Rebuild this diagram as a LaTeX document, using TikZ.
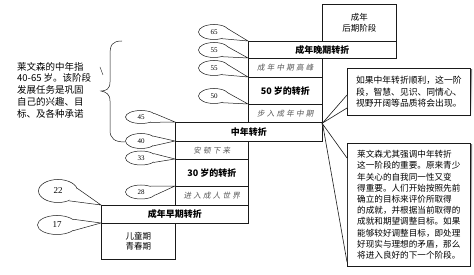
\documentclass[tikz,border=0pt]{standalone}
\usepackage{fontspec}
\usepackage{xcolor}
\usetikzlibrary{shapes.geometric,positioning}
\newfontfamily\cjk{Noto Sans CJK SC}
\newfontfamily\cjksp[LetterSpace=28,FakeSlant=0.18]{Noto Sans CJK SC}
\newfontfamily\numfont{Liberation Serif}
\definecolor{ink}{HTML}{1A1A1A}
\definecolor{muted}{HTML}{555555}
\definecolor{shade}{HTML}{A0A0A0}
\tikzset{
  rowbox/.style={draw=ink,line width=0.6pt,anchor=north west,inner sep=0pt},
  bigrow/.style={rowbox,font=\cjk\bfseries\fontsize{9}{11}\selectfont},
  smallrow/.style={rowbox,font=\cjksp\fontsize{7.6}{9}\selectfont,text=muted},
  agebubble/.style={draw=ink,ellipse,line width=0.5pt,inner sep=0pt,fill=white},
  notebox/.style={draw=ink,line width=0.6pt,fill=white,anchor=north west,
                  inner sep=0pt,align=left},
}

\begin{document}
\begin{tikzpicture}[x=1pt,y=-1pt]
  \useasboundingbox (0,0) rectangle (474,275);
  \fill[white] (0,0) rectangle (474,275);
  % staircase of stages
  \node[rowbox,minimum width=74pt,minimum height=37pt,align=center,
        font=\cjk\fontsize{8.5}{11}\selectfont] (late) at (322,4) {成年\\后期阶段};
  \node[bigrow,minimum width=148pt,minimum height=17pt] (r65) at (248,41) {成年晚期转折};
  \node[smallrow,minimum width=74pt,minimum height=19pt] (r60) at (248,58) {成年中期高峰};
  \node[bigrow,minimum width=74pt,minimum height=27pt] (r55) at (248,77) {50 岁的转折};
  \node[smallrow,minimum width=74pt,minimum height=18pt] (r50) at (248,104) {步入成年中期};
  \node[bigrow,minimum width=147pt,minimum height=19pt] (r45) at (175,122) {中年转折};
  \node[smallrow,minimum width=73pt,minimum height=18pt] (r40) at (175,141) {安顿下来};
  \node[bigrow,minimum width=73pt,minimum height=27pt] (r33) at (175,159) {30 岁的转折};
  \node[smallrow,minimum width=73pt,minimum height=19pt] (r28) at (175,186) {进入成人世界};
  \node[bigrow,minimum width=147pt,minimum height=18pt] (r22) at (101,205) {成年早期转折};
  \node[rowbox,minimum width=74pt,minimum height=36pt,align=left,
        font=\cjk\fontsize{8.5}{10.5}\selectfont] (r17) at (101,223) {儿童期\\青春期};
  % age bubbles
  \foreach \n/\cx/\cy/\w/\h/\s/\lab/\tip/\a/\b in {
      a65/214/32/31/15/7/65/r65/10/-40, a60/214/50/31/15/7/55/r60/10/-40,
      a55/214/68/31/15/7/55/r55/10/-40, a50/214/96/31/15/7/50/r50/10/-40,
      a45/141/117/31/13/7/45/r45/15/-30, a40/141/141/31/15/7/40/r40/22/-22,
      a33/141/158/31/14/7/33/r33/20/-20, a28/141/192/31/14/7/28/r28/32/-12,
      a22/58/191/39/23/9/22/r22/8/-42, a17/57/225/39/19/9/17/r17/20/-20}{
    \node[agebubble,minimum width=\w pt,minimum height=\h pt,
          font=\numfont\fontsize{\s}{\s}\selectfont] (\n) at (\cx,\cy) {\lab};
    \fill[white] (\n.\a) -- (\tip.north west) -- (\n.\b) -- cycle;
    \draw[ink,line width=0.5pt] (\n.\a) -- (\tip.north west) -- (\n.\b);}
  % brace and note on the left
  \draw[ink,line width=0.5pt] (122,41) .. controls (112,41) and (110,45) .. (110,55)
        -- (110,82) .. controls (110,89) and (106,91) .. (101,91)
        .. controls (106,92) and (110,94) .. (110,101) -- (110,130)
        .. controls (110,139) and (115,142) .. (125,142);
  \draw[ink,line width=0.4pt] (100,67) -- (103,75);
  \node[anchor=north west,inner sep=0pt,align=left,
        font=\cjk\fontsize{9.5}{11.7}\selectfont] (task) at (17,62)
       {莱文森的中年指\\40-65 岁。该阶段\\发展任务是巩固\\自己的兴趣、目\\标、及各种承诺};
  % callouts on the right
  \fill[shade] (349,70) rectangle (472,117);
  \fill[shade] (349,145) rectangle (472,268);
  \node[notebox,minimum width=123pt,minimum height=47pt,
        font=\cjk\fontsize{8.8}{11.5}\selectfont] (n1) at (347,68)
       {如果中年转折顺利，这一阶\\段，智慧、见识、同情心、\\视野开阔等品质将会出现。};
  \node[notebox,minimum width=123pt,minimum height=123pt,
        font=\cjk\fontsize{8.6}{11.2}\selectfont] (n2) at (347,143)
       {莱文森尤其强调中年转折\\这一阶段的重要。原来青少\\年关心的自我同一性又变\\得重要。人们开始按照先前\\确立的目标来评价所取得\\的成就，并根据当前取得的\\成就和期望调整目标。如果\\能够较好调整目标，即处理\\好现实与理想的矛盾，那么\\将进入良好的下一个阶段。};
  \fill[white] ([yshift=-27pt]n1.north west) -- ([yshift=-1pt]r45.north east)
        -- ([yshift=-40pt]n1.north west) -- cycle;
  \fill[white] ([yshift=-15pt]n2.north west) -- ([yshift=-2pt]r45.north east)
        -- ([yshift=-119pt]n2.north west) -- cycle;
  \draw[ink,line width=0.6pt] ([yshift=-27pt]n1.north west) -- ([yshift=-1pt]r45.north east)
        -- ([yshift=-40pt]n1.north west);
  \draw[ink,line width=0.6pt] ([yshift=-15pt]n2.north west) -- ([yshift=-2pt]r45.north east)
        -- ([yshift=-119pt]n2.north west);
\end{tikzpicture}
\end{document}
